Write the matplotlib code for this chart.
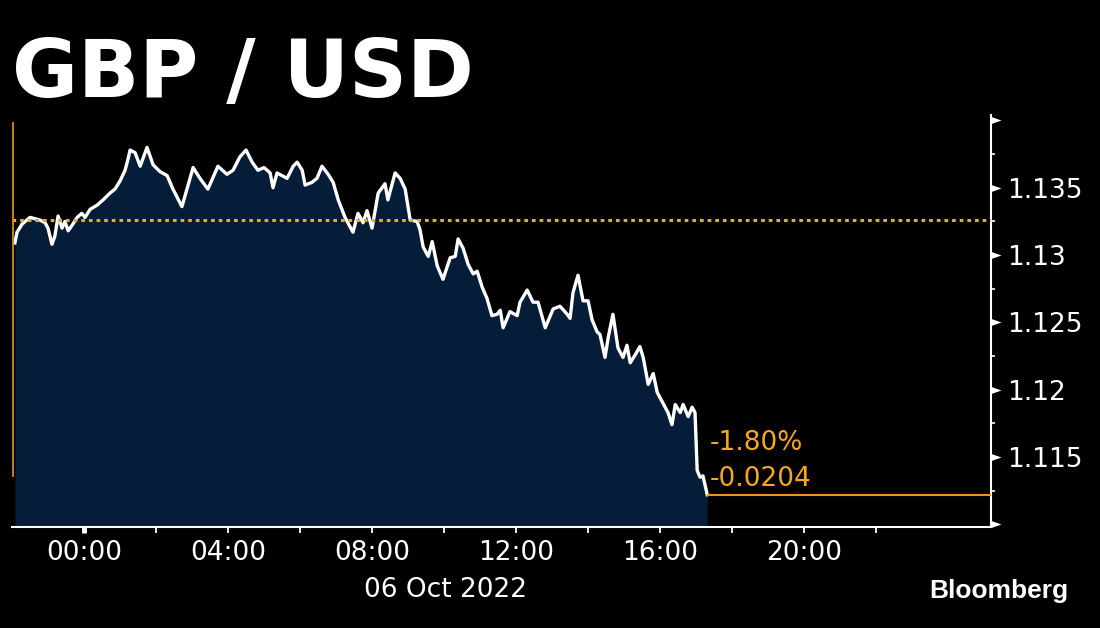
import matplotlib
matplotlib.use('agg')
import matplotlib.pyplot as plt
from matplotlib.path import Path
from matplotlib.ticker import FixedLocator, FixedFormatter, FuncFormatter

# hours after 00:00, 06 Oct 2022
hours = [
    -1.92, -1.86, -1.72, -1.50, -1.22, -1.08, -1.00, -0.89, -0.81, -0.72,
    -0.61, -0.53, -0.44, -0.31, -0.19, -0.06, 0.03, 0.17, 0.36, 0.53,
    0.72, 0.86, 1.00, 1.14, 1.22, 1.28, 1.42, 1.56, 1.75, 1.92,
    2.11, 2.31, 2.47, 2.72, 2.86, 3.03, 3.22, 3.44, 3.72, 3.97,
    4.14, 4.33, 4.50, 4.67, 4.83, 5.00, 5.17, 5.25, 5.36, 5.64,
    5.81, 5.92, 6.06, 6.14, 6.33, 6.47, 6.61, 6.78, 6.92, 7.06,
    7.25, 7.39, 7.47, 7.61, 7.75, 7.86, 8.00, 8.17, 8.36, 8.44,
    8.64, 8.78, 8.92, 9.06, 9.25, 9.33, 9.42, 9.56, 9.67, 9.81,
    9.97, 10.17, 10.31, 10.39, 10.53, 10.67, 10.81, 10.92, 11.06, 11.19,
    11.33, 11.47, 11.56, 11.64, 11.83, 12.03, 12.11, 12.31, 12.47, 12.61,
    12.81, 13.03, 13.22, 13.42, 13.50, 13.58, 13.72, 13.86, 14.00, 14.11,
    14.25, 14.33, 14.47, 14.56, 14.69, 14.83, 14.97, 15.08, 15.17, 15.31,
    15.44, 15.53, 15.67, 15.81, 15.92, 16.08, 16.22, 16.33, 16.42, 16.56,
    16.64, 16.78, 16.89, 16.97, 17.03, 17.11, 17.19, 17.31,
]
prices = [
    1.1309, 1.1317, 1.1323, 1.1328, 1.1326, 1.1324, 1.1320, 1.1308, 1.1314, 1.1329,
    1.1320, 1.1325, 1.1318, 1.1323, 1.1328, 1.1331, 1.1328, 1.1334, 1.1337, 1.1341,
    1.1346, 1.1349, 1.1355, 1.1363, 1.1371, 1.1378, 1.1376, 1.1366, 1.1380, 1.1367,
    1.1362, 1.1359, 1.1349, 1.1336, 1.1349, 1.1365, 1.1357, 1.1349, 1.1366, 1.1360,
    1.1363, 1.1373, 1.1378, 1.1369, 1.1363, 1.1365, 1.1361, 1.1350, 1.1361, 1.1357,
    1.1366, 1.1369, 1.1363, 1.1352, 1.1354, 1.1357, 1.1366, 1.1360, 1.1354, 1.1341,
    1.1328, 1.1321, 1.1317, 1.1331, 1.1324, 1.1333, 1.1320, 1.1346, 1.1353, 1.1341,
    1.1361, 1.1357, 1.1349, 1.1326, 1.1325, 1.1319, 1.1306, 1.1299, 1.1310, 1.1292,
    1.1282, 1.1298, 1.1299, 1.1312, 1.1305, 1.1293, 1.1286, 1.1288, 1.1276, 1.1268,
    1.1255, 1.1256, 1.1259, 1.1246, 1.1258, 1.1255, 1.1265, 1.1274, 1.1265, 1.1265,
    1.1246, 1.1260, 1.1262, 1.1256, 1.1253, 1.1272, 1.1285, 1.1266, 1.1266, 1.1252,
    1.1243, 1.1241, 1.1224, 1.1239, 1.1256, 1.1231, 1.1224, 1.1233, 1.1220, 1.1226,
    1.1232, 1.1224, 1.1204, 1.1212, 1.1198, 1.1190, 1.1183, 1.1174, 1.1189, 1.1183,
    1.1189, 1.1180, 1.1187, 1.1183, 1.1140, 1.1135, 1.1136, 1.1122,
]

prev_close = 1.1326
change = -0.0204
change_pct = -1.80

y_major = [1.11, 1.115, 1.12, 1.125, 1.13, 1.135, 1.14]
y_minor = [1.1125, 1.1175, 1.1225, 1.1275, 1.1325, 1.1375]
x_major = [0, 4, 8, 12, 16, 20]
x_minor = [2, 6, 10, 14, 18, 22]
x_labels = ['00:00', '04:00', '08:00', '12:00', '16:00', '20:00']
date_label = '06 Oct 2022'
title = 'GBP / USD'

NAVY = '#051d38'
ORANGE = '#f5a623'
XMIN, XMAX = -2.0, 25.19
YMIN, YMAX = 1.1098, 1.1404

fig = plt.figure(figsize=(11, 6.28), dpi=100, facecolor='black')
ax = fig.add_axes([0.0109, 0.1608, 0.8900, 0.656])
ax.set_facecolor('black')
ax.set_xlim(XMIN, XMAX)
ax.set_ylim(YMIN, YMAX)

ax.fill_between(hours, prices, YMIN, color=NAVY, lw=0, zorder=1)
ax.plot(hours, prices, color='white', lw=2.4, zorder=3)

ax.axhline(prev_close, color=ORANGE, lw=2.2, ls=(0, (1.2, 1.3)), zorder=4)
ax.hlines(prices[-1], hours[-1], XMAX, color='#e69522', lw=1.5, zorder=4)
ax.axvline(-1.97, ymin=0.124, ymax=0.981, color='#d98a22', lw=1.3, zorder=4)

ax.annotate('%.2f%%' % change_pct, xy=(hours[-1], prices[-1]), xytext=(1.5, 37),
            textcoords='offset points', ha='left', va='center', color=ORANGE, fontsize=19)
ax.annotate('%.4f' % change, xy=(hours[-1], prices[-1]), xytext=(1.5, 11.5),
            textcoords='offset points', ha='left', va='center', color=ORANGE, fontsize=19)

for s in ['top', 'left']:
    ax.spines[s].set_visible(False)
for s in ['right', 'bottom']:
    ax.spines[s].set_color('white')
    ax.spines[s].set_linewidth(1.5)

# y axis on the right, arrow shaped major ticks
ax.yaxis.tick_right()
ax.yaxis.set_major_locator(FixedLocator(y_major))
ax.yaxis.set_minor_locator(FixedLocator(y_minor))
ax.yaxis.set_major_formatter(FuncFormatter(
    lambda v, p: '%g' % round(v, 4) if 1.112 < v < 1.138 else ''))
ax.tick_params(axis='y', which='major', length=7, width=1, colors='white',
               labelsize=19, pad=4.5)
ax.tick_params(axis='y', which='minor', length=3, width=1.2, colors='white')

arrow = Path([(0, -0.35), (1, 0), (0, 0.35), (0, -0.35)],
             [Path.MOVETO, Path.LINETO, Path.LINETO, Path.CLOSEPOLY])
for t in ax.yaxis.get_major_ticks():
    t.tick2line.set_marker(arrow)
    t.tick2line.set_markersize(14.4)
    t.tick2line.set_markerfacecolor('white')
    t.tick2line.set_markeredgewidth(0)

# x axis
ax.xaxis.set_major_locator(FixedLocator(x_major))
ax.xaxis.set_major_formatter(FixedFormatter(x_labels))
ax.xaxis.set_minor_locator(FixedLocator(x_minor))
ax.tick_params(axis='x', which='both', length=4, width=1.3, colors='white',
               labelsize=19, pad=5)
ax.xaxis.get_major_ticks()[0].tick1line.set_markeredgewidth(3.5)

fig.text(445 / 1100, 1 - 590 / 628, date_label, ha='center', va='center',
         color='white', fontsize=19)
fig.text(12 / 1100, 1 - 97 / 628, title, ha='left', va='baseline',
         color='white', fontsize=58, fontweight='bold')
fig.text(1068 / 1100, 1 - 598 / 628, 'Bloomberg', ha='right', va='baseline',
         color='white', fontsize=19, fontweight='bold', family='Liberation Sans')

fig.savefig('out.png', dpi=100, facecolor='black')
plt.close()
